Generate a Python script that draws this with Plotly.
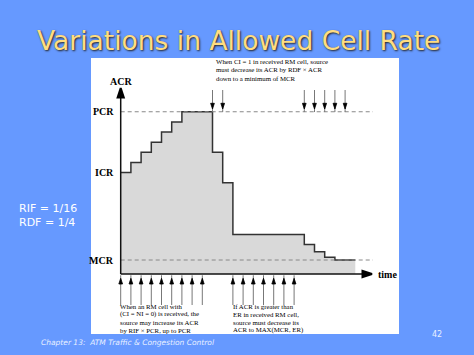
import plotly.graph_objects as go

# ---------------- data ----------------
time_steps = [0, 1, 2, 3, 4, 5, 6, 9, 10, 11, 18, 19, 20, 21, 23]
acr_values = [10, 11, 12, 13, 14, 15, 16, 12, 9, 3.9, 2.9, 2.2, 1.65, 1.38, 1.38]
PCR = 16
ICR = 10
MCR = 1.38
inc_arrow_times = [0, 1, 2, 3, 4, 5, 6, 7, 8, 11, 12, 13, 14, 15, 16, 17]
dec_arrow_times = [9, 10, 18, 19, 20, 21, 22]
level_labels = ["PCR", "ICR", "MCR"]
level_values = [PCR, ICR, MCR]

top_note = ["When CI = 1 in received RM cell, source",
            "must decrease its ACR by RDF \u00d7 ACR",
            "down to a minimum of MCR"]
left_note = ["When an RM cell with",
             "(CI = NI = 0) is received, the",
             "source may increase its ACR",
             "by RIF \u00d7 PCR, up to PCR"]
right_note = ["If ACR is greater than",
              "ER in received RM cell,",
              "source must decrease its",
              "ACR to MAX(MCR, ER)"]

# ---------------- layout constants ----------------
W, H = 474, 355
X0_PX, XU = 120.7, 10.2     # pixel of t=0, pixels per time unit
Y0_PX, YU = 274.0, 10.14    # pixel of ACR=0, pixels per ACR unit
BLUE = "#6699FF"

def tx(px):  # pixel -> time units
    return (px - X0_PX) / XU

def vy(py):  # pixel -> ACR units
    return (Y0_PX - py) / YU

def px(x):
    return x / W

def py(y):
    return 1 - y / H

fig = go.Figure()

# shaded step area
fig.add_trace(go.Scatter(
    x=time_steps, y=acr_values, mode="lines", line_shape="hv",
    fill="tozeroy", fillcolor="#D9D9D9",
    line=dict(color="#333333", width=1.5), hoverinfo="skip"))

# dashed PCR / MCR lines
dash_end = tx(373)
for lv in (PCR, MCR):
    fig.add_trace(go.Scatter(
        x=[0, dash_end], y=[lv, lv], mode="lines",
        line=dict(color="#888888", width=1, dash="4px,3px"), hoverinfo="skip"))

# axes with arrow heads
fig.add_trace(go.Scatter(x=[0, 0], y=[0, vy(92)], mode="lines",
                         line=dict(color="#111111", width=1.5), hoverinfo="skip"))
fig.add_trace(go.Scatter(x=[0, tx(368)], y=[0, 0], mode="lines",
                         line=dict(color="#111111", width=1.5), hoverinfo="skip"))
fig.add_trace(go.Scatter(
    x=[0, tx(372)], y=[vy(88), 0], mode="markers",
    marker=dict(symbol="arrow", size=10, angle=[0, 90], color="#000000",
                line=dict(color="#000000", width=2)), hoverinfo="skip"))

# small arrows: increase (bottom, upward) and decrease (top, downward)
inc_tip, inc_tail = vy(278.3), vy(305)
dec_tip, dec_tail = vy(109), vy(90)
sx, sy = [], []
for t in inc_arrow_times:
    sx += [t, t, None]
    sy += [inc_tail, inc_tip + 0.3, None]
for t in dec_arrow_times:
    sx += [t, t, None]
    sy += [dec_tail, dec_tip - 0.3, None]
fig.add_trace(go.Scatter(x=sx, y=sy, mode="lines",
                         line=dict(color="#777777", width=1), hoverinfo="skip"))
fig.add_trace(go.Scatter(
    x=inc_arrow_times + dec_arrow_times,
    y=[inc_tip] * len(inc_arrow_times) + [dec_tip] * len(dec_arrow_times),
    mode="markers",
    marker=dict(symbol="arrow", size=6,
                angle=[0] * len(inc_arrow_times) + [180] * len(dec_arrow_times),
                color="#000000", line=dict(color="#000000", width=0.8)),
    hoverinfo="skip"))

ann = []
serif = "Liberation Serif, Times New Roman, serif"
# level labels
for lab, lv in zip(level_labels, level_values):
    ann.append(dict(xref="paper", yref="y", x=px(116), y=lv, text="<b>%s</b>" % lab,
                    showarrow=False, xanchor="right", yanchor="middle",
                    font=dict(family=serif, size=10, color="#000000")))
ann.append(dict(xref="paper", yref="paper", x=px(121.5), y=py(81), text="<b>ACR</b>",
                showarrow=False, xanchor="center", yanchor="middle",
                font=dict(family=serif, size=10, color="#000000")))
ann.append(dict(xref="paper", yref="paper", x=px(376), y=py(274), text="<b>time</b>",
                showarrow=False, xanchor="left", yanchor="middle",
                font=dict(family=serif, size=10, color="#000000")))

# notes
def note(lines, x0, ys):
    for s, yy in zip(lines, ys):
        ann.append(dict(xref="paper", yref="paper", x=px(x0), y=py(yy), text=s,
                        showarrow=False, xanchor="left", yanchor="middle",
                        font=dict(family=serif, size=6.8, color="#000000")))

note(top_note, 214, [61.7, 70, 78.3])
note(left_note, 117.5, [306, 314, 322, 330])
note(right_note, 231, [306, 314, 322, 330])

# slide texts
ann.append(dict(xref="paper", yref="paper", x=px(239), y=py(41),
                text="Variations in Allowed Cell Rate", showarrow=False,
                xanchor="center", yanchor="middle",
                font=dict(family="DejaVu Sans", size=26.5, color="#FFDD80",
                          shadow="1px 1px 2px #222222")))
ann.append(dict(xref="paper", yref="paper", x=px(17), y=py(208), text="RIF = 1/16",
                showarrow=False, xanchor="left", yanchor="middle",
                font=dict(family="DejaVu Sans", size=11, color="#FFFFFF")))
ann.append(dict(xref="paper", yref="paper", x=px(17), y=py(222), text="RDF = 1/4",
                showarrow=False, xanchor="left", yanchor="middle",
                font=dict(family="DejaVu Sans", size=11, color="#FFFFFF")))
ann.append(dict(xref="paper", yref="paper", x=px(39), y=py(342),
                text="Chapter 13:\u00a0\u00a0ATM Traffic & Congestion Control",
                showarrow=False, xanchor="left", yanchor="middle",
                font=dict(family="DejaVu Sans", size=7.5, color="#E8F0FF", style="italic")))
ann.append(dict(xref="paper", yref="paper", x=px(437), y=py(334), text="42",
                showarrow=False, xanchor="center", yanchor="middle",
                font=dict(family="DejaVu Sans", size=8, color="#E8F0FF")))

fig.update_layout(
    width=W, height=H, margin=dict(l=0, r=0, t=0, b=0),
    paper_bgcolor=BLUE, plot_bgcolor=BLUE, showlegend=False,
    xaxis=dict(range=[tx(0), tx(W)], visible=False, fixedrange=True),
    yaxis=dict(range=[vy(H), vy(0)], visible=False, fixedrange=True),
    shapes=[dict(type="rect", xref="paper", yref="paper", layer="below",
                 x0=px(91), x1=px(399), y0=py(334), y1=py(58),
                 fillcolor="#FFFFFF", line=dict(width=0))],
    annotations=ann,
)

fig.write_html("out.html")
